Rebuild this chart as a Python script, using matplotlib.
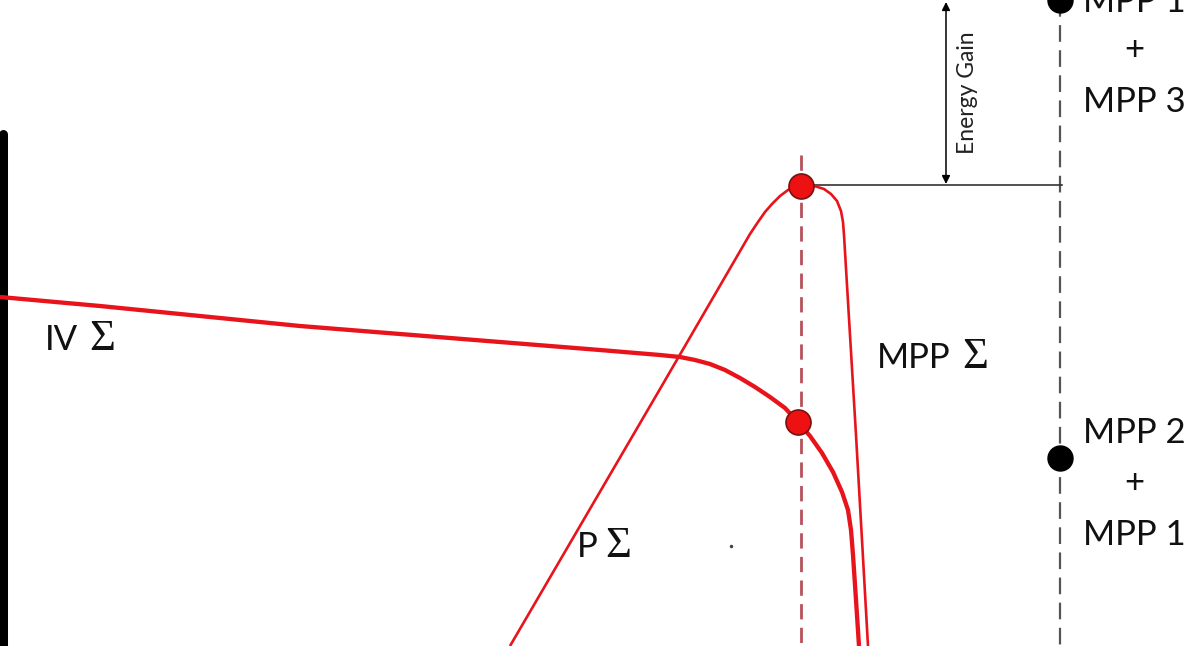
import matplotlib
matplotlib.use("Agg")
import matplotlib.pyplot as plt

# ---- data (chart units; y axis points downward like the drawing) ----
iv_x = [0, 100, 200, 300, 400, 500, 600, 660, 680, 695, 710, 725, 740, 755, 770,
        785, 798, 810, 822, 833, 842, 848, 851, 853, 856, 859]
iv_y = [297, 306, 316, 326, 334, 342, 350, 355, 357, 360, 364, 370, 378, 387, 397,
        408, 422, 436, 453, 472, 492, 510, 530, 555, 600, 646]

p_x = [510, 580, 660, 750, 758, 765, 772, 780, 788, 795, 801, 808, 816, 824, 831,
       837, 841, 843, 844, 850, 856, 862, 868]
p_y = [646, 526, 389, 234, 222, 212, 204, 196, 190, 187, 186, 185.5, 186.5, 189, 194,
       201, 211, 222, 235, 335, 435, 540, 646]

mpp_sum = (801, 186)
mpp_iv = (798, 422)
mpp_black = [(1060, 0), (1060, 458)]
x_mpp_sum = 801
x_mpp_ref = 1060
y_gain_top = 2
y_gain_bot = 185
x_gain = 946

fig = plt.figure(figsize=(12, 6.46), dpi=100)
ax = fig.add_axes([0, 0, 1, 1])
ax.set_xlim(0, 1200)
ax.set_ylim(646, 0)
ax.axis("off")

red = "#e8141c"
fam = ["Lato", "DejaVu Sans"]
sig_fam = ["Liberation Serif", "DejaVu Serif"]
txt = "#111111"

# left axis bar
ax.plot([3, 3], [134, 660], color="black", lw=6.5, solid_capstyle="round", zorder=2)

# dashed verticals
ax.plot([x_mpp_sum, x_mpp_sum], [155, 646], color="#b5525c", lw=2.0,
        dashes=(5.5, 3), zorder=1)
ax.plot([x_mpp_ref, x_mpp_ref], [0, 646], color="#555555", lw=1.6,
        dashes=(7.5, 3.8), zorder=1)

# horizontal reference line
ax.plot([x_mpp_sum, x_mpp_ref + 2], [y_gain_bot, y_gain_bot], color="#333333",
        lw=1.2, zorder=2)

# energy gain arrow
ax.annotate("", xy=(x_gain, y_gain_top), xytext=(x_gain, y_gain_bot - 1),
            arrowprops=dict(arrowstyle="<|-|>", color="black", lw=1.1,
                            mutation_scale=12, shrinkA=0, shrinkB=0))
ax.text(967, 93, "Energy Gain", rotation=90, ha="center", va="center",
        fontsize=16.5, family=fam, color="#222222")

# curves
ax.plot(iv_x, iv_y, color=red, lw=3.1, solid_capstyle="butt", solid_joinstyle="round", zorder=3)
ax.plot(p_x, p_y, color=red, lw=1.9, solid_capstyle="butt", solid_joinstyle="round", zorder=3)

# markers
ax.plot(*mpp_sum, marker="o", ms=18, mfc="#ee1111", mec="#7a1010", mew=1.2, zorder=5)
ax.plot(*mpp_iv, marker="o", ms=18, mfc="#ee1111", mec="#7a1010", mew=1.2, zorder=5)
for (bx, by) in mpp_black:
    ax.plot(bx, by, marker="o", ms=18, mfc="black", mec="black", zorder=5)
ax.plot(731, 546, marker="o", ms=1.5, color="#444444", zorder=5)

# labels
fs = 25
sfs = 32
ax.text(45, 350, "IV", ha="left", va="baseline", fontsize=fs, family=fam, color=txt)
ax.text(89, 350, "Σ", ha="left", va="baseline", fontsize=sfs, family=sig_fam, color=txt)
ax.text(577, 557, "P", ha="left", va="baseline", fontsize=fs, family=fam, color=txt)
ax.text(605, 557, "Σ", ha="left", va="baseline", fontsize=sfs, family=sig_fam, color=txt)
ax.text(877, 368, "MPP", ha="left", va="baseline", fontsize=fs, family=fam, color=txt)
ax.text(962, 368, "Σ", ha="left", va="baseline", fontsize=sfs, family=sig_fam, color=txt)

for (y, s) in [(12, "MPP 1"), (112, "MPP 3"), (443, "MPP 2"), (545, "MPP 1")]:
    ax.text(1134, y, s, ha="center", va="baseline", fontsize=fs, family=fam, color=txt)
for y in [50, 483]:
    ax.text(1134, y, "+", ha="center", va="center", fontsize=fs, family=fam, color=txt)

fig.savefig("out.png", dpi=100, facecolor="white")
